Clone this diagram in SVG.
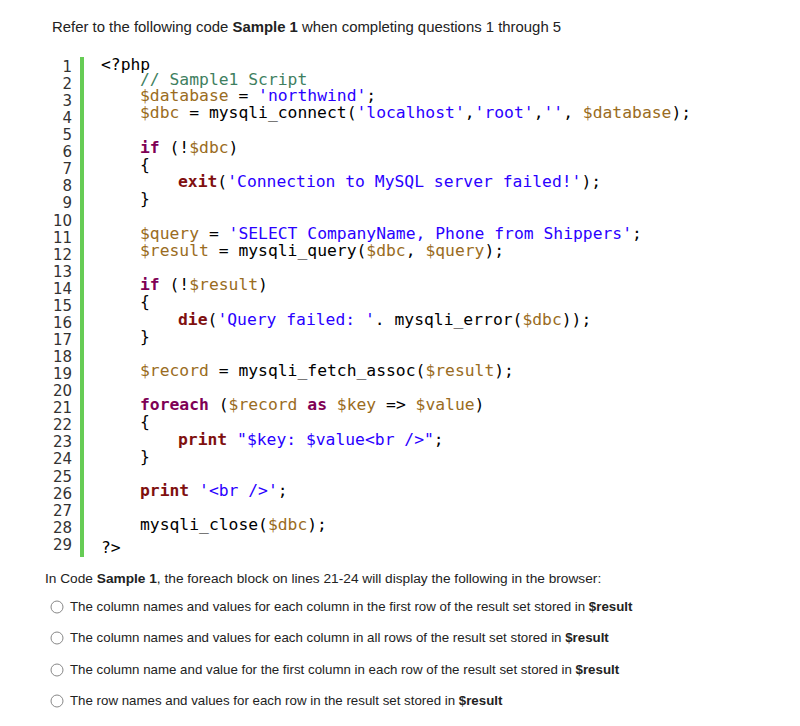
<svg xmlns="http://www.w3.org/2000/svg" width="800" height="726" viewBox="0 0 800 726">
<style>
.t{font-family:"Liberation Sans",Arial,sans-serif;font-size:13.7px;fill:#222}
.t.o{font-size:13.3px}
.t.h{font-size:14.9px}
.n{font-family:"DejaVu Sans","Liberation Sans",sans-serif;font-size:15px;fill:#333;text-anchor:end}
.c{font-family:"DejaVu Sans Mono",monospace;font-size:16.35px;fill:#000;white-space:pre}
.v{fill:#9a6c22}.k{fill:#7f0055;font-weight:bold}.f{fill:#7f1010;font-weight:bold}.s{fill:#2a00ff}.m{fill:#3f7f5f}
.r{fill:#fff;stroke:#888;stroke-width:1}
</style>
<rect width="800" height="726" fill="#fff"/>
<text class="t h" x="52" y="32">Refer to the following code <tspan font-weight="bold">Sample 1</tspan> when completing questions 1 through 5</text>
<rect x="80" y="57" width="4" height="500" fill="#66cc55"/>
<g id="nums">
<text class="n" x="72" y="72">1</text><text class="n" x="72" y="89">2</text><text class="n" x="72" y="106">3</text><text class="n" x="72" y="123">4</text><text class="n" x="72" y="140">5</text><text class="n" x="72" y="157">6</text><text class="n" x="72" y="174">7</text><text class="n" x="72" y="191">8</text><text class="n" x="72" y="208">9</text><text class="n" x="72" y="226">10</text><text class="n" x="72" y="243">11</text><text class="n" x="72" y="260">12</text><text class="n" x="72" y="277">13</text><text class="n" x="72" y="294">14</text><text class="n" x="72" y="311">15</text><text class="n" x="72" y="328">16</text><text class="n" x="72" y="345">17</text><text class="n" x="72" y="362">18</text><text class="n" x="72" y="379">19</text><text class="n" x="72" y="396">20</text><text class="n" x="72" y="413">21</text><text class="n" x="72" y="430">22</text><text class="n" x="72" y="447">23</text><text class="n" x="72" y="464">24</text><text class="n" x="72" y="482">25</text><text class="n" x="72" y="499">26</text><text class="n" x="72" y="516">27</text><text class="n" x="72" y="533">28</text><text class="n" x="72" y="550">29</text>
</g>
<g id="code">
<text class="c" x="101" y="70">&lt;?php</text>
<text class="c m" x="140" y="85">// Sample1 Script</text>
<text class="c" x="140" y="101"><tspan class="v">$database</tspan> = <tspan class="s">'northwind'</tspan>;</text>
<text class="c" x="140" y="118"><tspan class="v">$dbc</tspan> = mysqli_connect(<tspan class="s">'localhost'</tspan>,<tspan class="s">'root'</tspan>,<tspan class="s">''</tspan>, <tspan class="v">$database</tspan>);</text>
<text class="c" x="140" y="153"><tspan class="k">if</tspan> (!<tspan class="v">$dbc</tspan>)</text>
<text class="c" x="140" y="170">{</text>
<text class="c" x="178" y="187"><tspan class="f">exit</tspan>(<tspan class="s">'Connection to MySQL server failed!'</tspan>);</text>
<text class="c" x="140" y="204">}</text>
<text class="c" x="140" y="239"><tspan class="v">$query</tspan> = <tspan class="s">'SELECT CompanyName, Phone from Shippers'</tspan>;</text>
<text class="c" x="140" y="256"><tspan class="v">$result</tspan> = mysqli_query(<tspan class="v">$dbc</tspan>, <tspan class="v">$query</tspan>);</text>
<text class="c" x="140" y="290"><tspan class="k">if</tspan> (!<tspan class="v">$result</tspan>)</text>
<text class="c" x="140" y="307">{</text>
<text class="c" x="178" y="325"><tspan class="f">die</tspan>(<tspan class="s">'Query failed: '</tspan>. mysqli_error(<tspan class="v">$dbc</tspan>));</text>
<text class="c" x="140" y="342">}</text>
<text class="c" x="140" y="376"><tspan class="v">$record</tspan> = mysqli_fetch_assoc(<tspan class="v">$result</tspan>);</text>
<text class="c" x="140" y="410"><tspan class="k">foreach</tspan> (<tspan class="v">$record</tspan> <tspan class="k">as</tspan> <tspan class="v">$key</tspan> =&gt; <tspan class="v">$value</tspan>)</text>
<text class="c" x="140" y="427">{</text>
<text class="c" x="178" y="445"><tspan class="f">print</tspan> <tspan class="s">"$key: $value&lt;br /&gt;"</tspan>;</text>
<text class="c" x="140" y="462">}</text>
<text class="c" x="140" y="496"><tspan class="f">print</tspan> <tspan class="s">'&lt;br /&gt;'</tspan>;</text>
<text class="c" x="140" y="530">mysqli_close(<tspan class="v">$dbc</tspan>);</text>
<text class="c" x="101" y="553">?&gt;</text>
</g>
<text class="t" x="45" y="583">In Code <tspan font-weight="bold">Sample 1</tspan>, the foreach block on lines 21-24 will display the following in the browser:</text>
<g id="opts">
<circle class="r" cx="57" cy="607" r="6"/><text class="t o" x="70" y="611">The column names and values for each column in the first row of the result set stored in <tspan font-weight="bold">$result</tspan></text>
<circle class="r" cx="57" cy="638" r="6"/><text class="t o" x="70" y="642">The column names and values for each column in all rows of the result set stored in <tspan font-weight="bold">$result</tspan></text>
<circle class="r" cx="57" cy="670" r="6"/><text class="t o" x="70" y="674">The column name and value for the first column in each row of the result set stored in <tspan font-weight="bold">$result</tspan></text>
<circle class="r" cx="57" cy="701" r="6"/><text class="t o" x="70" y="705">The row names and values for each row in the result set stored in <tspan font-weight="bold">$result</tspan></text>
</g>
</svg>
